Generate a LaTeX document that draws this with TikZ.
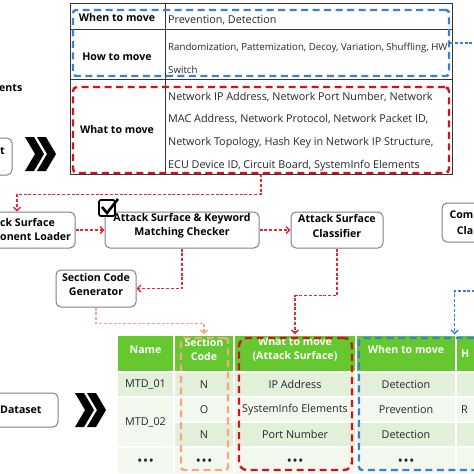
\documentclass[tikz,border=0pt]{standalone}
\usepackage{fontspec}
\setmainfont{Open Sans}
\usetikzlibrary{arrows.meta,fit}
\definecolor{hlred}{RGB}{212,18,28}
\definecolor{linkred}{RGB}{228,40,52}
\definecolor{hlblue}{RGB}{58,128,218}
\definecolor{hlorange}{RGB}{244,166,136}
\definecolor{headgreen}{RGB}{100,200,46}
\definecolor{rowgreen}{RGB}{226,239,217}
\definecolor{rowpale}{RGB}{243,248,239}
\newcommand\keyfont{\fontsize{10.6}{14.5}\selectfont\bfseries}
\newcommand\cellfont{\fontsize{10.8}{14}\selectfont}
\def\doublechevron(#1,#2){\foreach \d in {0,12} {\fill[black] (#1+\d,#2) -- ++(9,0) -- ++(10,17) -- ++(-10,17) -- ++(-9,0) -- ++(10,-17) -- cycle;}}
\tikzset{
  stagebox/.style={draw=black!50, line width=1pt, rounded corners=5pt, fill=white, inner sep=0pt, align=center, font=\keyfont},
  keytext/.style={inner sep=0pt, align=left, font=\keyfont},
  celltext/.style={inner sep=0pt, font=\cellfont, text=black!85},
  hlbox/.style={line width=2.4pt, dash pattern=on 7pt off 4.5pt, inner sep=0pt},
  link/.style={line width=1.4pt, dash pattern=on 3pt off 1.8pt, -{Straight Barb[length=3.5pt,width=7pt]}},
  headcell/.style={fill=headgreen, draw=white, line width=1.2pt, inner sep=0pt, align=center, text=white, font=\keyfont},
  bodycell/.style={draw=white, line width=1.2pt, inner sep=0pt}
}
\begin{document}
\begin{tikzpicture}[x=1pt,y=-1pt]
\useasboundingbox (0,0) rectangle (474,474);
\clip (0,0) rectangle (474,474);

% left side, cut off
\node[keytext, anchor=west] (elemtail) at (-1,88) {ents};
\node[stagebox, fit={(-30,138) (12,175)}] (inputbox) {};
\node[keytext, anchor=west] (inputtail) at (0,151) {t};
\doublechevron(25,137)
\node[stagebox, fit={(-30,393) (58,427)}] (dataset) {};
\node[keytext, anchor=west] (datasettail) at (0,410) {Dataset};
\doublechevron(75,393)

% mtd table
\draw[black!80, line width=0.9pt] (70,3) rectangle (452,174);
\draw[black!80, line width=0.9pt] (165,3) -- (165,174) (70,29) -- (452,29) (70,79) -- (452,79);
\node[keytext] (whenkey) at (117,18) {When to move};
\node[keytext] (howkey) at (117,57) {How to move};
\node[keytext] (whatkey) at (117,130) {What to move};
\node[celltext, anchor=base west] (whenval) at (168,23) {Prevention, Detection};
\foreach \txt [count=\i from 0] in {{Randomization, Pattemization, Decoy, Variation, Shuffling, HW}, Switch}
  \node[celltext, font=\fontsize{9.7}{12}\selectfont, anchor=base west] (howval\i) at (168,50+23*\i) {\txt};
\foreach \txt [count=\i from 0] in {{Network IP Address, Network Port Number, Network},
    {MAC Address, Network Protocol, Network Packet ID,},
    {Network Topology, Hash Key in Network IP Structure,},
    {ECU Device ID, Circuit Board, SystemInfo Elements}}
  \node[celltext, anchor=base west] (whatval\i) at (168,100+22.7*\i) {\txt};
\node[hlbox, draw=hlblue, rounded corners=3pt, fit={(73,10) (449,76)}] (whenhow) {};
\node[hlbox, draw=hlred, rounded corners=4pt, fit={(73,87) (449,173)}] (whatmove) {};

% pipeline
\node[stagebox, fit={(-41,212) (75,248)}] (loader) {};
\node[keytext, anchor=west] (loadertail) at (0,229.5) {ck Surface\\onent Loader};
\node[stagebox, fit={(105,212) (259,248)}] (checker) {Attack Surface \& Keyword\\Matching Checker};
\node[stagebox, fit={(291,212) (383,248)}] (classifier) {Attack Surface\\Classifier};
\node[stagebox, fit={(442,203) (530,242)}] (condclass) {};
\node[keytext, anchor=east] (condtail1) at (473.5,215) {Com};
\node[keytext, anchor=east] (condtail2) at (473.5,231) {Cla};
\node[stagebox, fit={(56,270) (136,307)}] (generator) {Section Code\\Generator};
\draw[line width=1.8pt, rounded corners=2pt, fill=white] (99,200) rectangle (115,216);
\draw[line width=2.6pt] (102,207) -- (107,213) -- (118,199);

% dataset table
\foreach \xa/\xb/\name/\txt in {117/174/namehead/Name, 174/234/codehead/{Section\\Code}, 234/356/whathead/{What to move\\(Attack Surface)}, 356/456/whenhead/When to move, 456/520/howhead/{}}
  \node[headcell, fit={(\xa,335) (\xb,372)}] (\name) {\txt};
\node[keytext, text=white, anchor=west] (howheadtail) at (461,354) {H};
\foreach \ya/\yb/\rowc [count=\r] in {372/397/rowgreen, 397/422/rowpale, 422/447/rowgreen, 447/474/rowpale}
  \foreach \xa/\xb [count=\c] in {174/234, 234/356, 356/456, 456/520}
    \node[bodycell, fill=\rowc, fit={(\xa,\ya) (\xb,\yb)}] (cell\r\c) {};
\node[bodycell, fill=rowgreen, fit={(117,372) (174,397)}] (name1) {};
\node[bodycell, fill=rowpale, fit={(117,397) (174,447)}] (name2) {};
\node[bodycell, fill=rowpale, fit={(117,447) (174,474)}] (name4) {};
\node[celltext] at (name1) {MTD\_01};
\node[celltext] at (name2) {MTD\_02};
\node[celltext] at (cell11) {N};
\node[celltext] at (cell12) {IP Address};
\node[celltext] at (cell13) {Detection};
\node[celltext] at (cell21) {O};
\node[celltext] at (cell22) {SystemInfo Elements};
\node[celltext] at (cell23) {Prevention};
\node[celltext, anchor=west] (howrowtail) at (461,410) {R};
\node[celltext] at (cell31) {N};
\node[celltext] at (cell32) {Port Number};
\node[celltext] at (cell33) {Detection};
\foreach \cellname in {name4, cell41, cell42, cell43}
  \node[celltext, font=\keyfont, yshift=-1pt] at (\cellname) {•\,•\,•};
\node[hlbox, draw=hlorange, rounded corners=3pt, fit={(181,338) (228,470)}] (codecol) {};
\node[hlbox, draw=hlred, rounded corners=8pt, fit={(239,338) (352,470)}] (whatcol) {};
\node[hlbox, draw=hlblue, rounded corners=3pt, fit={(359,338) (500,470)}] (whencol) {};

% connectors
\coordinate (howfeed) at (480,291);
\draw[link, draw=linkred] (whatmove.south) -- ++(0,20) -| (loader.north);
\draw[link, draw=linkred] (loader.east) -- (checker.west);
\draw[link, draw=linkred] (checker.east) -- (classifier.west);
\draw[link, draw=linkred] (checker.south) |- (generator.east);
\draw[link, draw=linkred] (classifier.south) -- ++(0,47) -| (whathead.north);
\draw[link, draw=hlorange] (generator.south) -- ++(0,16) -| (codehead.north);
\draw[link, draw=hlblue, -] (whenhow.east) -- ++(30,0);
\draw[link, draw=hlblue] (howfeed) -| ([xshift=-2pt]whenhead.north east);
\end{tikzpicture}
\end{document}
